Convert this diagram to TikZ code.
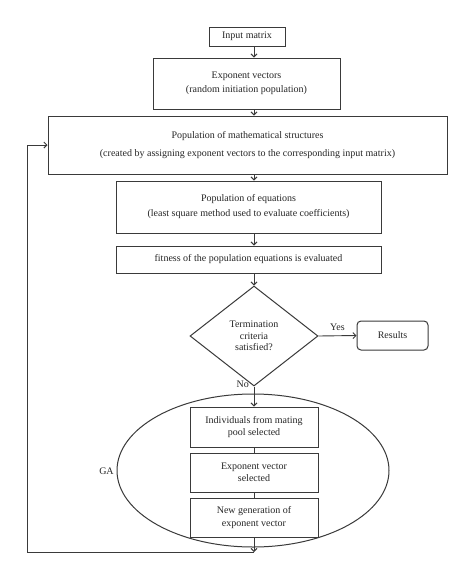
\documentclass[tikz,border=0pt]{standalone}
\usepackage{fontspec}
\setmainfont{Liberation Serif}
\usetikzlibrary{shapes.geometric,arrows.meta}
\definecolor{ink}{HTML}{3A3A3A}
\definecolor{txt}{HTML}{262626}
\begin{document}
\begin{tikzpicture}[x=1pt,y=-1pt,
  every node/.style={text=txt, font=\fontsize{10}{14}\selectfont},
  box/.style={draw=ink, line width=1pt, inner sep=0pt, align=center},
  arr/.style={draw=ink, line width=0.9pt, -{Straight Barb[length=3pt,width=6pt]}},
  ln/.style={draw=ink, line width=0.9pt},
  lbl/.style={inner sep=0pt}]
\useasboundingbox[fill=white] (0,0) rectangle (474,579);

\node[box, minimum width=76pt, minimum height=19pt] (input) at (247,36.5) {Input matrix};
\node[box, minimum width=187pt, minimum height=51pt] (expv) at (246.5,83.5) {Exponent vectors\\(random initiation population)};
\node[box, minimum width=399pt, minimum height=58pt, font=\fontsize{10}{18}\selectfont] (mstruct) at (247.5,145) {Population of mathematical structures\\(created by assigning exponent vectors to the corresponding input matrix)};
\node[box, minimum width=265pt, minimum height=52pt, font=\fontsize{10}{15}\selectfont] (eqs) at (248.5,207) {Population of equations\\(least square method used to evaluate coefficients)};
\node[box, minimum width=265pt, minimum height=27pt] (fit) at (248.5,259.5) {fitness of the population equations is evaluated};
\node[diamond, draw=ink, line width=1pt, minimum width=128pt, minimum height=100pt, inner sep=0pt, align=center, font=\fontsize{10}{11.5}\selectfont] (term) at (254,336) {Termination\\criteria\\satisfied?};
\node[box, rounded corners=4pt, minimum width=71pt, minimum height=29pt] (res) at (392.5,335.5) {Results};

\node[ellipse, draw=ink, line width=1pt, minimum width=272pt, minimum height=153pt] (ga) at (253,470.5) {};
\node[box, fill=white, minimum width=128pt, minimum height=40pt, font=\fontsize{10}{11.5}\selectfont] (b1) at (254,427) {Individuals from mating\\pool selected};
\node[box, fill=white, minimum width=128pt, minimum height=39pt, font=\fontsize{10}{11.5}\selectfont] (b2) at (254,472.5) {Exponent vector\\selected};
\node[box, fill=white, minimum width=128pt, minimum height=39pt, font=\fontsize{10}{13}\selectfont] (b3) at (254,517.5) {New generation of\\exponent vector};
\node[lbl] (galbl) at (106.5,471) {GA};

\coordinate (corner) at (254,552);
\coordinate (leftc) at (27,552);

\draw[arr] (input.south -| term.north) -- (expv.north -| term.north);
\draw[arr] (expv.south -| term.north) -- (mstruct.north -| term.north);
\draw[arr] (mstruct.south -| term.north) -- (eqs.north -| term.north);
\draw[arr] (eqs.south -| term.north) -- (fit.north -| term.north);
\draw[arr] (fit.south -| term.north) -- (term.north);
\draw[arr] (term.east) -- node[lbl, above=5pt] (yes) {Yes} (res.west);
\draw[arr] (term.south) -- (b1.north);
\node[lbl, left=5pt] (no) at ([yshift=2pt]term.south) {No};
\draw[ln] (b1.south) -- (b2.north);
\draw[ln] (b2.south) -- (b3.north);
\draw[arr] (b3.south) -- (corner);
\draw[arr] (corner) -- (leftc) |- (mstruct.west);
\end{tikzpicture}
\end{document}
